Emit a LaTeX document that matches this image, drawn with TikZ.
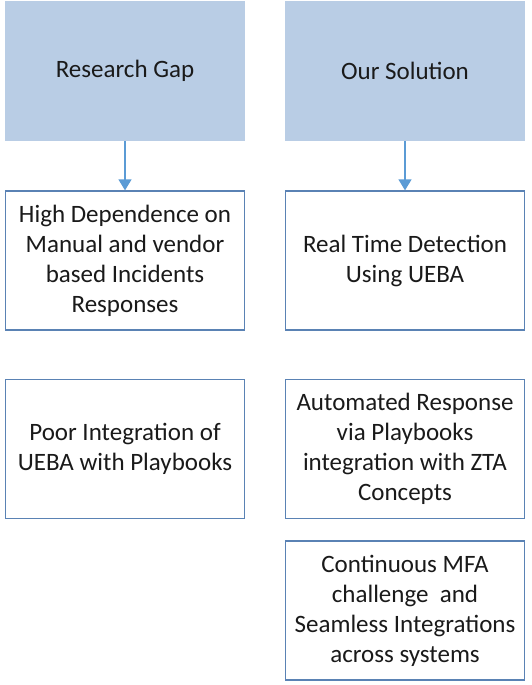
\documentclass[tikz,border=0pt]{standalone}
\usepackage{fontspec}
\setmainfont{Carlito}
\usetikzlibrary{arrows.meta}
\definecolor{hdrfill}{HTML}{B9CDE5}
\definecolor{boxline}{HTML}{5A82B4}
\definecolor{arrowc}{HTML}{5B9BD5}
\definecolor{txt}{HTML}{1A1A1A}
\begin{document}
\begin{tikzpicture}[x=1pt,y=-1pt,
  hdr/.style={fill=hdrfill, draw=none, minimum width=240pt, minimum height=140pt, inner sep=0pt, font=\fontsize{25}{30}\selectfont, text=txt, align=center},
  itembox/.style={draw=boxline, line width=1.3pt, fill=white, minimum width=239pt, minimum height=139pt, inner sep=0pt, font=\fontsize{25}{30}\selectfont, text=txt, align=center},
  conn/.style={draw=arrowc, line width=1.3pt, -{Triangle[length=11pt,width=13pt]}}]
\useasboundingbox (0,0) rectangle (532,685);
\node[hdr] (rg) at (125,71) {Research Gap};
\node[hdr] (os) at (405,71) {Our Solution};
\node[itembox] (l1) at (125,260.5) {High Dependence on\\Manual and vendor\\based Incidents\\Responses};
\node[itembox] (l2) at (125,449) {Poor Integration of\\UEBA with Playbooks};
\node[itembox] (r1) at (405,260.5) {Real Time Detection\\Using UEBA};
\node[itembox] (r2) at (405,449) {Automated Response\\via Playbooks\\integration with ZTA\\Concepts};
\node[itembox] (r3) at (405,610.5) {Continuous MFA\\challenge\ \ and\\Seamless Integrations\\across systems};
\draw[conn] (rg.south) -- (l1.north);
\draw[conn] (os.south) -- (r1.north);
\end{tikzpicture}
\end{document}
